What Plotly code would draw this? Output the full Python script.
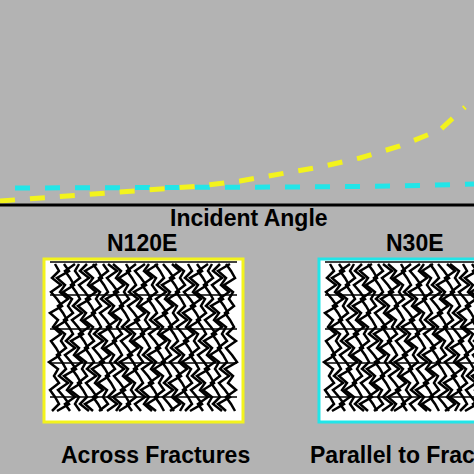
import plotly.graph_objects as go

# reflection curves (pixel-like plot units)
yellow_x = [0, 40, 100, 160, 200, 240, 280, 320, 360, 400, 440, 465]
yellow_y = [201, 198, 194, 190, 186, 181, 174, 167, 158, 146, 130, 107]
cyan_x = [15, 200, 300, 400, 474]
cyan_y = [188, 188, 187, 186, 184]

# wiggle pattern for the gather sketches
wiggle = [0, 4, -3, 6, -4, 2, 7, -5, 3, -2, 6, -4, 1, 5, -6, 3, -1, 4, -5]
panel_rows = [262, 295, 329, 363, 397]

fig = go.Figure()

fig.add_trace(go.Scatter(x=cyan_x, y=cyan_y, mode='lines',
                         line=dict(color='#22e5e8', width=5, dash='dash')))
fig.add_trace(go.Scatter(x=yellow_x, y=yellow_y, mode='lines',
                         line=dict(color='#f3f31d', width=5, dash='dash')))


def add_gather(x0, x1, y0, y1, border):
    fig.add_shape(type='rect', x0=x0, x1=x1, y0=y0, y1=y1,
                  fillcolor='white', line=dict(color=border, width=3), layer='below')
    for r in panel_rows:
        fig.add_shape(type='line', x0=x0 + 6, x1=x1 - 6, y0=r, y1=r,
                      line=dict(color='black', width=1.5))
    n = int((x1 - x0 - 16) / 7)
    for k in range(n):
        xc = x0 + 11 + k * 7
        ys = [y0 + 5 + j * 7 for j in range(int((y1 - y0 - 10) / 7) + 1)]
        xs = [xc + wiggle[(j + 5 * k) % len(wiggle)] for j in range(len(ys))]
        fig.add_trace(go.Scatter(x=xs, y=ys, mode='lines',
                                 line=dict(color='black', width=2.5)))


add_gather(44, 243, 259, 422, '#f3f31d')
add_gather(319, 490, 259, 422, '#22e5e8')

fig.add_shape(type='line', x0=0, x1=474, y0=205, y1=205,
              line=dict(color='black', width=3))

labels = [
    (249, 218, 'Incident Angle'),
    (142, 243, 'N120E'),
    (415, 243, 'N30E'),
    (155, 455, 'Across Fractures'),
    (308, 455, 'Parallel to Fractures'),
]
for x, y, t in labels:
    fig.add_annotation(x=x, y=y, text='<b>%s</b>' % t, showarrow=False,
                       xanchor='left' if x == 308 else 'center',
                       font=dict(family='Liberation Sans, Arial', size=23, color='black'))

fig.update_layout(
    width=474, height=474, margin=dict(l=0, r=0, t=0, b=0),
    paper_bgcolor='#b3b3b3', plot_bgcolor='#b3b3b3', showlegend=False,
    xaxis=dict(range=[0, 474], visible=False, fixedrange=True),
    yaxis=dict(range=[474, 0], visible=False, fixedrange=True),
)

fig.write_html("out.html", config={'displayModeBar': False},
               post_script="document.body.style.margin='0';")
